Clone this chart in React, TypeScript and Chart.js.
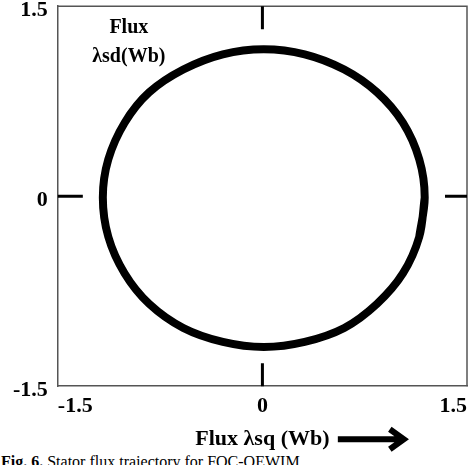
import { useEffect, useRef } from "react"
import { Chart, registerables } from "chart.js"

Chart.register(...registerables)

// stator flux trajectory (Wb)
const fluxSq = [
  1.19, 1.15, 1.03, 0.84, 0.6, 0.31, 0.01, -0.29, -0.58, -0.83, -1.01, -1.13,
  -1.17, -1.13, -1.01, -0.83, -0.58, -0.29, 0.01, 0.31, 0.6, 0.84, 1.03, 1.15,
]
const fluxSd = [
  -0.01, 0.29, 0.58, 0.82, 1.0, 1.12, 1.16, 1.12, 1.0, 0.82, 0.58, 0.29,
  -0.01, -0.32, -0.61, -0.85, -1.04, -1.15, -1.19, -1.15, -1.04, -0.85, -0.61, -0.32,
]

const tickValues = [-1.5, 0, 1.5]
const tickLabels = ["-1.5", "0", "1.5"]
const xTitle = "Flux λsq (Wb)"
const yTitle = ["Flux", "λsd(Wb)"]

const FONT = "'Liberation Serif', 'Times New Roman', serif"

// top/right edges of the box, inward zero ticks, inner y label and the arrow
const framePlugin = {
  id: "frame",
  afterDatasetsDraw(chart: any) {
    const { ctx, chartArea: a, scales } = chart
    const x0 = scales.x.getPixelForValue(0)
    const y0 = scales.y.getPixelForValue(0)
    ctx.save()
    ctx.strokeStyle = "#555"
    ctx.lineWidth = 1.5
    ctx.beginPath()
    ctx.moveTo(a.left, a.top)
    ctx.lineTo(a.right, a.top)
    ctx.lineTo(a.right, a.bottom)
    ctx.stroke()

    ctx.strokeStyle = "#000"
    ctx.lineWidth = 3
    ctx.beginPath()
    ctx.moveTo(x0, a.top)
    ctx.lineTo(x0, a.top + 23)
    ctx.moveTo(x0, a.bottom)
    ctx.lineTo(x0, a.bottom - 23)
    ctx.moveTo(a.left, y0)
    ctx.lineTo(a.left + 25, y0)
    ctx.moveTo(a.right, y0)
    ctx.lineTo(a.right - 22, y0)
    ctx.stroke()

    ctx.fillStyle = "#000"
    ctx.font = `bold 20px ${FONT}`
    ctx.textAlign = "center"
    ctx.textBaseline = "middle"
    ctx.fillText(yTitle[0], a.left + 71, a.top + 22)
    ctx.fillText(yTitle[1], a.left + 71, a.top + 51)

    // arrow next to the x title
    const ay = a.bottom + 53
    ctx.lineWidth = 6
    ctx.lineJoin = "miter"
    ctx.beginPath()
    ctx.moveTo(a.left + 280, ay)
    ctx.lineTo(a.left + 343, ay)
    ctx.moveTo(a.left + 332, ay - 10)
    ctx.lineTo(a.left + 346, ay)
    ctx.lineTo(a.left + 332, ay + 10)
    ctx.stroke()
    ctx.restore()
  },
}

export default function App() {
  const chartRef = useRef<HTMLCanvasElement>(null)
  const chartInstance = useRef<Chart | null>(null)

  useEffect(() => {
    if (!chartRef.current) return
    if (chartInstance.current) chartInstance.current.destroy()

    const setTicks = (axis: any) => {
      axis.ticks = tickValues.map((v) => ({ value: v }))
    }
    const tickLabel = (v: any) => tickLabels[tickValues.indexOf(Number(v))] ?? ""

    // closed loop: start one point early so the join stays smooth
    const n = fluxSq.length
    const order = [n - 1, ...fluxSq.map((_, i) => i), 0]
    const loop = order.map((i) => ({ x: fluxSq[i], y: fluxSd[i] }))

    chartInstance.current = new Chart(chartRef.current, {
      type: "scatter",
      data: {
        datasets: [
          {
            data: loop,
            showLine: true,
            borderColor: "#000",
            borderWidth: 8,
            pointRadius: 0,
            tension: 0.34,
            fill: false,
          },
        ],
      },
      options: {
        animation: false,
        responsive: true,
        maintainAspectRatio: false,
        events: [],
        layout: { padding: { left: 3, right: 3, top: 0, bottom: 0 } },
        plugins: { legend: { display: false }, tooltip: { enabled: false } },
        scales: {
          x: {
            type: "linear",
            min: -1.5,
            max: 1.5,
            afterBuildTicks: setTicks,
            grid: { display: false, drawTicks: false },
            border: { display: true, color: "#555", width: 1.5 },
            ticks: {
              align: "inner",
              padding: 7,
              color: "#000",
              maxRotation: 0,
              font: { family: FONT, size: 22, weight: "bold" },
              callback: tickLabel,
            },
            title: {
              display: true,
              text: xTitle,
              color: "#000",
              padding: { top: 0, bottom: 0 },
              font: { family: FONT, size: 22, weight: "bold" },
            },
          },
          y: {
            type: "linear",
            min: -1.5,
            max: 1.5,
            afterBuildTicks: setTicks,
            grid: { display: false, drawTicks: false },
            border: { display: true, color: "#555", width: 1.5 },
            ticks: {
              padding: 10,
              labelOffset: 4,
              color: "#000",
              font: { family: FONT, size: 22, weight: "bold" },
              callback: tickLabel,
            },
          },
        },
      },
      plugins: [framePlugin],
    })

    return () => {
      if (chartInstance.current) {
        chartInstance.current.destroy()
        chartInstance.current = null
      }
    }
  }, [])

  return (
    <div
      style={{
        position: "absolute",
        left: 0,
        top: 0,
        width: 474,
        height: 465,
        overflow: "hidden",
        background: "#fff",
        fontFamily: FONT,
      }}
    >
      <div style={{ position: "absolute", left: 0, top: -17, width: 474, height: 470 }}>
        <canvas ref={chartRef} />
      </div>
      <div
        style={{
          position: "absolute",
          left: 1,
          top: 454,
          fontSize: 16,
          lineHeight: "16px",
          whiteSpace: "nowrap",
          color: "#000",
        }}
      >
        <b>Fig. 6.</b> Stator flux trajectory for FOC-OEWIM
      </div>
    </div>
  )
}
